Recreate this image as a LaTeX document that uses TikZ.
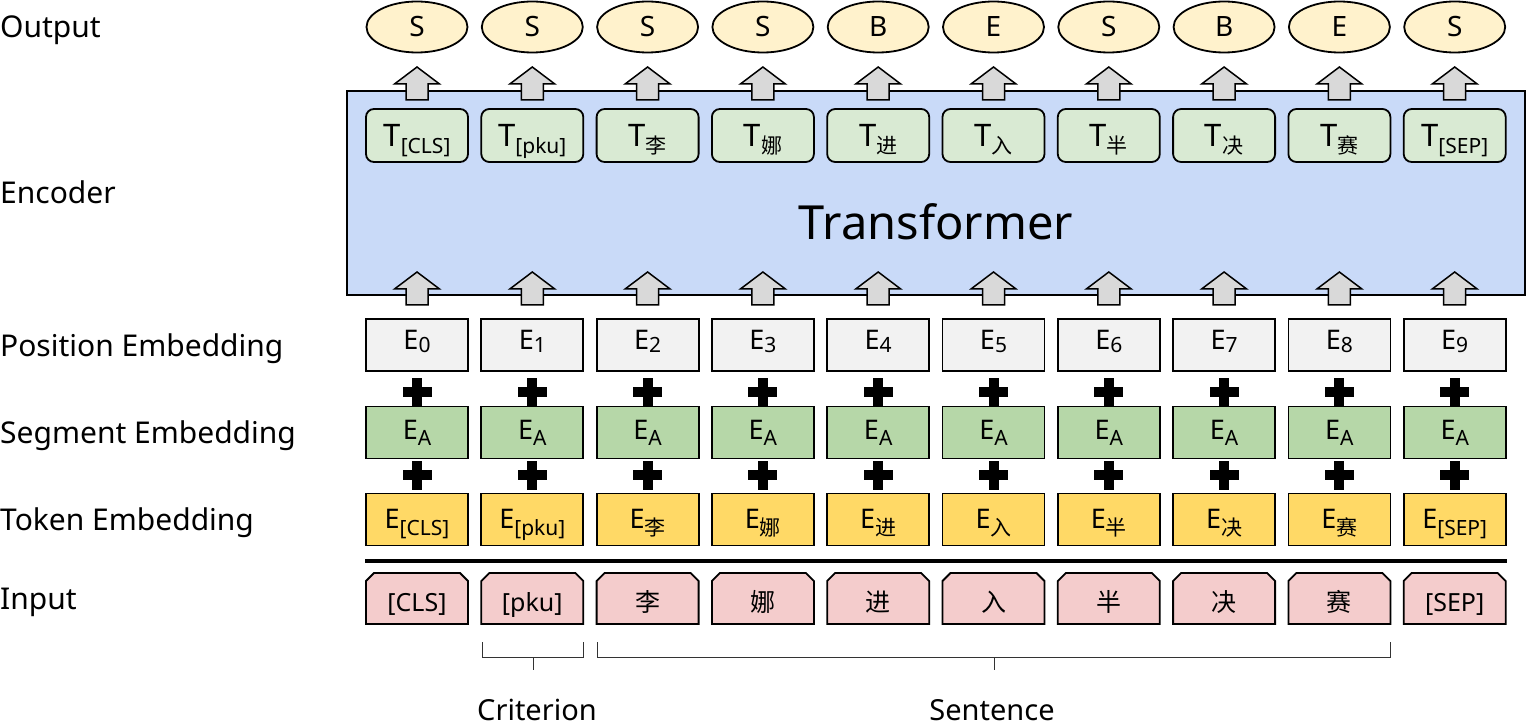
\documentclass[tikz,border=0pt]{standalone}
\usepackage{fontspec}
\setmainfont{Noto Sans}
\newfontfamily\cjk{Noto Sans CJK SC}
\usetikzlibrary{shapes.geometric,calc}
\definecolor{outfill}{HTML}{FFF2CC}
\definecolor{tfill}{HTML}{D9EAD3}
\definecolor{encfill}{HTML}{C9DAF8}
\definecolor{posfill}{HTML}{F2F2F2}
\definecolor{segfill}{HTML}{B6D7A8}
\definecolor{tokfill}{HTML}{FFD966}
\definecolor{infill}{HTML}{F4CCCC}
\definecolor{arrfill}{HTML}{D9D9D9}
\newcommand\smallsub[2][7pt]{\raisebox{-#1}{\fontsize{21pt}{21pt}\selectfont #2}}
\newcommand\blockarrow[3]{%
  \draw[barrow] (#1,#2) -- (#1+22.5,#2+17) -- (#1+11,#2+17) -- (#1+11,#3)
    -- (#1-11,#3) -- (#1-11,#2+17) -- (#1-22.5,#2+17) -- cycle;}
\newcommand\plussign[2]{%
  \fill[black] (#1-14.5,#2-5) rectangle (#1+14.5,#2+5);
  \fill[black] (#1-5,#2-14.5) rectangle (#1+5,#2+14.5);}
\tikzset{
  lbl/.style={anchor=base west, inner sep=0pt, font=\fontsize{30pt}{36pt}\selectfont},
  outnode/.style={ellipse, draw, line width=1.8pt, fill=outfill, minimum width=101pt,
    minimum height=51pt, inner sep=0pt, text height=20pt, text depth=0pt,
    font=\fontsize{28pt}{32pt}\selectfont},
  tnode/.style={rectangle, rounded corners=8pt, draw, line width=1.8pt, fill=tfill,
    minimum width=102pt, minimum height=53pt, inner sep=0pt, text height=22pt, text depth=0pt,
    font=\fontsize{31pt}{34pt}\selectfont},
  ebox/.style={rectangle, draw, line width=1.8pt, minimum width=102pt,
    minimum height=52pt, inner sep=0pt, text height=19pt,
    font=\fontsize{27pt}{30pt}\selectfont},
  posnode/.style={ebox, fill=posfill, text depth=10pt},
  segnode/.style={ebox, fill=segfill, text depth=6pt},
  toknode/.style={ebox, fill=tokfill, text depth=2pt},
  inshape/.style={draw, line width=1.8pt, fill=infill},
  innode/.style={inner sep=0pt, text height=18pt, text depth=0pt,
    font=\fontsize{25pt}{30pt}\selectfont},
  encnode/.style={rectangle, draw, line width=1.8pt, fill=encfill,
    minimum width=1178pt, minimum height=204pt, inner sep=0pt},
  barrow/.style={draw, line width=1.5pt, fill=arrfill, line join=miter},
  brace/.style={draw, line width=0.9pt, black!80},
  caption/.style={anchor=base, inner sep=0pt, font=\fontsize{29pt}{34pt}\selectfont}
}
\begin{document}
\begin{tikzpicture}[x=1pt,y=-1pt]
\useasboundingbox (0,0) rectangle (1529,727);
% left labels
\node[lbl] (lout) at (0,38) {Output};
\node[lbl] (lenc) at (0,204) {Encoder};
\node[lbl] (lpos) at (0,356) {Position Embedding};
\node[lbl] (lseg) at (0,443) {Segment Embedding};
\node[lbl] (ltok) at (0,530) {Token Embedding};
\node[lbl] (lin) at (0,609) {Input};
% encoder
\node[encnode] (enc) at (936,193) {};
\node[anchor=base, inner sep=0pt, font=\fontsize{47pt}{52pt}\selectfont] (tr) at (936,240) {Transformer};
% columns
\foreach \i/\o/\t in {0/S/{[CLS]},1/S/{[pku]},2/S/{\cjk 李},3/S/{\cjk 娜},4/B/{\cjk 进},5/E/{\cjk 入},6/S/{\cjk 半},7/B/{\cjk 决},8/E/{\cjk 赛},9/S/{[SEP]}}{
  \pgfmathsetmacro\cx{417+115.3*\i}
  \node[outnode] (o\i) at (\cx,27) {\o};
  \blockarrow{\cx}{67}{100}
  \node[tnode] (t\i) at (\cx,135.5) {T\smallsub{\t}};
  \blockarrow{\cx}{272}{305}
  \node[posnode] (p\i) at (\cx,345) {E\smallsub[3pt]{\i}};
  \plussign{\cx}{392}
  \node[segnode] (s\i) at (\cx,432.5) {E\smallsub[6pt]{A}};
  \plussign{\cx}{475}
  \node[toknode] (k\i) at (\cx,519.5) {E\smallsub{\t}};
  \draw[inshape] (\cx-51,624) -- (\cx-51,581) -- (\cx-43,573) -- (\cx+43,573)
     -- (\cx+51,581) -- (\cx+51,624) -- cycle;
  \node[innode] (in\i) at (\cx,602) {\t};
}
% rule
\draw[line width=4pt] ($(k0.south west)+(0,15)$) -- ($(k9.south east)+(0,15)$);
% brackets
\draw[brace] (482,642) -- (482,657) -- (583,657) -- (583,642);
\draw[brace] (533,657) -- (533,670);
\draw[brace] (597,642) -- (597,657) -- (1390,657) -- (1390,642);
\draw[brace] (994,657) -- (994,670);
\node[caption] (crit) at (537,720) {Criterion};
\node[caption] (sent) at (992,720) {Sentence};
\end{tikzpicture}
\end{document}
